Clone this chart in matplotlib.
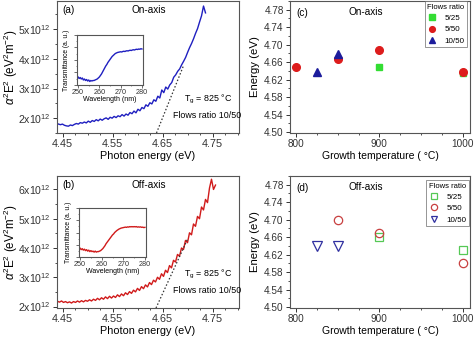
import numpy as np
import matplotlib
matplotlib.use("Agg")
import matplotlib.pyplot as plt
from matplotlib.ticker import FixedLocator, MultipleLocator, AutoMinorLocator, FuncFormatter

plt.rcParams['font.family'] = ['Liberation Sans', 'DejaVu Sans']
plt.rcParams['mathtext.fontset'] = 'custom'
plt.rcParams['mathtext.rm'] = 'Liberation Sans'
plt.rcParams['mathtext.it'] = 'Liberation Sans:italic'
plt.rcParams['mathtext.bf'] = 'Liberation Sans:bold'
plt.rcParams['axes.edgecolor'] = '#555555'
plt.rcParams['xtick.color'] = '#333333'
plt.rcParams['ytick.color'] = '#333333'

# ---- Tauc spectra, alpha^2 E^2 in units of 1e12 eV^2 m^-2 ----
on_axis_energy_range = (4.438, 4.736)
on_axis_signal = [
    1.83, 1.80, 1.78, 1.80, 1.76, 1.74, 1.73, 1.77, 1.75, 1.79,
    1.82, 1.80, 1.85, 1.83, 1.87, 1.84, 1.90, 1.86, 1.92, 1.89,
    1.95, 1.91, 1.97, 1.93, 1.98, 2.01, 1.96, 2.03, 2.00, 2.06,
    2.02, 2.08, 2.05, 2.12, 2.07, 2.14, 2.10, 2.19, 2.15, 2.24,
    2.18, 2.30, 2.25, 2.36, 2.32, 2.45, 2.40, 2.52, 2.48, 2.62,
    2.57, 2.74, 2.68, 2.95, 2.86, 3.05, 2.98, 3.12, 3.20, 3.38,
    3.46, 3.58, 3.66, 3.80, 3.92, 4.05, 4.22, 4.38, 4.52, 4.68,
    4.86, 5.02, 5.24, 5.45, 5.78, 5.55,
]
off_axis_energy_range = (4.440, 4.756)
off_axis_signal = [
    2.18, 2.15, 2.19, 2.14, 2.17, 2.13, 2.16, 2.12, 2.17, 2.14,
    2.19, 2.15, 2.20, 2.16, 2.21, 2.18, 2.23, 2.19, 2.25, 2.21,
    2.28, 2.23, 2.30, 2.25, 2.33, 2.27, 2.35, 2.29, 2.36, 2.31,
    2.40, 2.34, 2.43, 2.37, 2.47, 2.41, 2.51, 2.45, 2.56, 2.50,
    2.62, 2.55, 2.68, 2.61, 2.74, 2.67, 2.82, 2.75, 2.90, 2.84,
    3.00, 2.93, 3.12, 3.03, 3.24, 3.16, 3.40, 3.32, 3.58, 3.52,
    3.78, 3.72, 4.00, 3.95, 4.26, 4.18, 4.52, 4.45, 4.82, 4.74,
    5.08, 5.00, 5.40, 5.30, 5.66, 5.55, 6.05, 6.35, 6.00, 6.15,
]
# linear extrapolation of the absorption edge (E, value) end points
on_axis_fit = ([4.638, 4.692], [1.50, 3.77])
off_axis_fit = ([4.637, 4.700], [1.95, 4.30])
energy_ticks = [4.45, 4.55, 4.65, 4.75]

# ---- transmittance spectra (insets), arbitrary units ----
wavelength_range = (250.0, 280.0)
on_axis_transmittance = [
    0.16, 0.13, 0.15, 0.12, 0.14, 0.10, 0.12, 0.09, 0.11, 0.08,
    0.10, 0.07, 0.09, 0.08, 0.09, 0.09, 0.10, 0.11, 0.12, 0.14,
    0.16, 0.19, 0.22, 0.26, 0.30, 0.34, 0.38, 0.41, 0.45, 0.48,
    0.51, 0.54, 0.57, 0.59, 0.61, 0.63, 0.64, 0.65, 0.655, 0.66,
    0.665, 0.66, 0.67, 0.675, 0.67, 0.68, 0.685, 0.68, 0.69, 0.695,
    0.69, 0.70, 0.705, 0.70, 0.71, 0.715, 0.71, 0.72, 0.715, 0.725,
    0.72,
]
off_axis_transmittance = [
    0.18, 0.15, 0.17, 0.14, 0.16, 0.13, 0.15, 0.12, 0.14, 0.11,
    0.13, 0.11, 0.12, 0.10, 0.12, 0.10, 0.11, 0.11, 0.12, 0.13,
    0.15, 0.17, 0.20, 0.23, 0.27, 0.30, 0.33, 0.36, 0.39, 0.42,
    0.45, 0.47, 0.50, 0.52, 0.54, 0.555, 0.57, 0.58, 0.59, 0.595,
    0.60, 0.605, 0.61, 0.605, 0.615, 0.61, 0.62, 0.615, 0.62, 0.615,
    0.62, 0.615, 0.62, 0.61, 0.615, 0.61, 0.615, 0.605, 0.61, 0.60,
    0.605,
]

# ---- band gap vs growth temperature ----
flow_labels = ['5/25', '5/50', '10/50']
on_temps = {'5/25': [900, 1000], '5/50': [800, 850, 900, 1000], '10/50': [825, 850]}
on_gaps = {'5/25': [4.648, 4.636], '5/50': [4.648, 4.667, 4.688, 4.638], '10/50': [4.638, 4.678]}
off_temps = {'5/25': [900, 1000], '5/50': [850, 900, 1000], '10/50': [825, 850]}
off_gaps = {'5/25': [4.660, 4.630], '5/50': [4.700, 4.670, 4.600], '10/50': [4.640, 4.640]}
gap_ticks = [4.50, 4.54, 4.58, 4.62, 4.66, 4.70, 4.74, 4.78]

W, H = 474, 337
fig = plt.figure(figsize=(W / 100, H / 100), dpi=100)


def box(x0, y0, x1, y1):
    return [x0 / W, 1 - y1 / H, (x1 - x0) / W, (y1 - y0) / H]


def sci(v, pos):
    return r'%dx10$^{12}$' % round(v)


def tauc_panel(rect, erange, signal, fit, ylim, color, tag, title, inset_rect, trans):
    ax = fig.add_axes(box(*rect))
    e = np.linspace(erange[0], erange[1], len(signal))
    ax.plot(e, signal, color=color, lw=1.0)
    ax.plot(fit[0], fit[1], ls=(0, (1.2, 1.6)), color='#333333', lw=0.9)
    ax.set_xlim(4.439, 4.803)
    ax.set_ylim(*ylim)
    ax.xaxis.set_major_locator(FixedLocator(energy_ticks))
    ax.xaxis.set_minor_locator(MultipleLocator(0.025))
    ax.yaxis.set_major_locator(MultipleLocator(1))
    ax.yaxis.set_minor_locator(AutoMinorLocator(2))
    ax.yaxis.set_major_formatter(FuncFormatter(sci))
    ax.xaxis.set_major_formatter(FuncFormatter(lambda v, p: '%.2f' % v))
    ax.tick_params(which='major', length=3, width=0.7, labelsize=7.8, pad=1.5)
    ax.tick_params(axis='y', which='major', labelsize=7.6)
    ax.tick_params(which='minor', length=1.6, width=0.6)
    ax.set_xlabel('Photon energy (eV)', fontsize=7.8, labelpad=1.5)
    ax.set_ylabel(r'$\alpha^2$E$^2$ (eV$^2$m$^{-2}$)', fontsize=8.4,
                  va='center')
    ax.yaxis.set_label_coords(-0.255, 0.5)
    ax.text(0.03, 0.93, tag, transform=ax.transAxes, fontsize=7.2, va='center')
    ax.text(0.505, 0.935, title, transform=ax.transAxes, fontsize=7.2,
            va='center', ha='center')
    ax.text(0.70, 0.255, r'T$_{\rm g}$ = 825 °C', transform=ax.transAxes,
            fontsize=6.4, va='center')
    ax.text(0.635, 0.13, 'Flows ratio 10/50', transform=ax.transAxes,
            fontsize=6.4, va='center')

    ins = fig.add_axes(box(*inset_rect))
    wl = np.linspace(wavelength_range[0], wavelength_range[1], len(trans))
    ins.plot(wl, trans, color=color, lw=1.0)
    ins.set_xlim(249.5, 280.5)
    ins.set_ylim(0, 1)
    ins.xaxis.set_major_locator(MultipleLocator(10))
    ins.xaxis.set_minor_locator(AutoMinorLocator(2))
    ins.yaxis.set_major_locator(MultipleLocator(0.25))
    ins.yaxis.set_minor_locator(AutoMinorLocator(2))
    ins.set_yticklabels([])
    ins.tick_params(which='major', length=2, width=0.5, labelsize=5.2, pad=1)
    ins.tick_params(which='minor', length=1, width=0.4)
    ins.set_xlabel('Wavelength (nm)', fontsize=5, labelpad=0)
    ins.set_ylabel('Transmittance (a. u.)', fontsize=4.8, labelpad=1)
    return ax


tauc_panel((57, 1, 239, 133), on_axis_energy_range, on_axis_signal, on_axis_fit,
           (1.5, 5.95), '#1f1fc0', '(a)', 'On-axis', (77, 35, 143, 85),
           on_axis_transmittance)
tauc_panel((57, 176, 239, 308), off_axis_energy_range, off_axis_signal, off_axis_fit,
           (1.95, 6.46), '#d01a1a', '(b)', 'Off-axis', (79, 208, 146, 257),
           off_axis_transmittance)


def gap_panel(rect, temps, gaps, styles, tag, title, legend_anchor):
    ax = fig.add_axes(box(*rect))
    for lab in flow_labels:
        st = styles[lab]
        ax.plot(temps[lab], gaps[lab], ls='none', label=lab, **st)
    ax.set_xlim(792.5, 1009)
    ax.set_ylim(4.498, 4.80)
    ax.xaxis.set_major_locator(MultipleLocator(100))
    ax.xaxis.set_minor_locator(AutoMinorLocator(4))
    ax.yaxis.set_major_locator(FixedLocator(gap_ticks))
    ax.yaxis.set_minor_locator(MultipleLocator(0.02))
    ax.yaxis.set_major_formatter(FuncFormatter(lambda v, p: '%.2f' % v))
    ax.tick_params(which='major', length=3, width=0.7, labelsize=7.2, pad=1.5)
    ax.tick_params(which='minor', length=1.6, width=0.6)
    ax.set_xlabel('Growth temperature ( °C)', fontsize=7.5, labelpad=1.5)
    ax.set_ylabel('Energy (eV)', fontsize=8.2, labelpad=3)
    ax.text(0.035, 0.91, tag, transform=ax.transAxes, fontsize=7.2, va='center')
    ax.text(0.42, 0.915, title, transform=ax.transAxes, fontsize=7.2,
            va='center', ha='center')
    leg = ax.legend(title='Flows ratio', loc='upper right',
                    bbox_to_anchor=legend_anchor, fontsize=5.8,
                    title_fontsize=5.5, frameon=True, fancybox=False,
                    borderpad=0.35, labelspacing=0.45, handlelength=1.2,
                    handletextpad=0.9, borderaxespad=0.0, markerscale=0.75)
    leg.get_frame().set_edgecolor('#666666')
    leg.get_frame().set_linewidth(0.6)
    return ax


filled = {
    '5/25': dict(marker='s', ms=5, color='#33dd33', mec='#33dd33'),
    '5/50': dict(marker='o', ms=5.5, color='#dd1c1c', mec='#dd1c1c'),
    '10/50': dict(marker='^', ms=5.5, color='#1c1c9c', mec='#1c1c9c'),
}
hollow = {
    '5/25': dict(marker='s', ms=5.5, mfc='none', mec='#55c855', mew=0.9),
    '5/50': dict(marker='o', ms=6, mfc='none', mec='#c84040', mew=0.9),
    '10/50': dict(marker='v', ms=6.5, mfc='none', mec='#3030a0', mew=0.9),
}

gap_panel((290, 1, 470, 133), on_temps, on_gaps, filled, '(c)', 'On-axis',
          (0.985, 1.0))
gap_panel((290, 176, 470, 308), off_temps, off_gaps, hollow, '(d)', 'Off-axis',
          (0.995, 0.97))

fig.savefig('out.png', dpi=100)
